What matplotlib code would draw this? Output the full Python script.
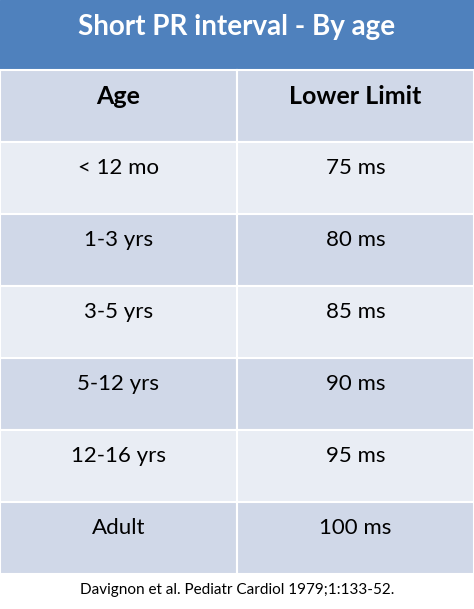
import matplotlib.pyplot as plt
from matplotlib.patches import Rectangle

title = 'Short PR interval - By age'
headers = ['Age', 'Lower Limit']
ages = ['< 12 mo', '1-3 yrs', '3-5 yrs', '5-12 yrs', '12-16 yrs', 'Adult']
limits = ['75 ms', '80 ms', '85 ms', '90 ms', '95 ms', '100 ms']
source = 'Davignon et al. Pediatr Cardiol 1979;1:133-52.'

plt.rcParams['font.family'] = ['Lato', 'DejaVu Sans']

W, H = 474, 609
fig = plt.figure(figsize=(W / 100, H / 100), dpi=100)
ax = fig.add_axes([0, 0, 1, 1])
ax.set_xlim(0, W)
ax.set_ylim(H, 0)
ax.axis('off')

blue = '#4F81BD'
dark = '#D0D8E8'
light = '#E9EDF4'
row_h = 72
top = 70
colx = [0, 237, W]

ax.add_patch(Rectangle((0, 0), W, top, color=blue))
ax.text(W / 2, top / 2 - 8, title, color='white', fontsize=20, fontweight='bold',
        ha='center', va='center')

rows = [headers] + [[a, l] for a, l in zip(ages, limits)]
for i, row in enumerate(rows):
    y = top + i * row_h
    fc = dark if i % 2 == 0 else light
    for j in range(2):
        ax.add_patch(Rectangle((colx[j], y), colx[j + 1] - colx[j], row_h,
                               facecolor=fc, edgecolor='white', lw=1.5))
        ax.text((colx[j] + colx[j + 1]) / 2, y + row_h / 2 - 10, row[j],
                fontsize=18 if i == 0 else 16,
                fontweight='bold' if i == 0 else 'normal',
                ha='center', va='center', color='black')

ax.text(W / 2, 590, source, fontsize=11, ha='center', va='center', color='black')

plt.savefig('out.png', dpi=100)
